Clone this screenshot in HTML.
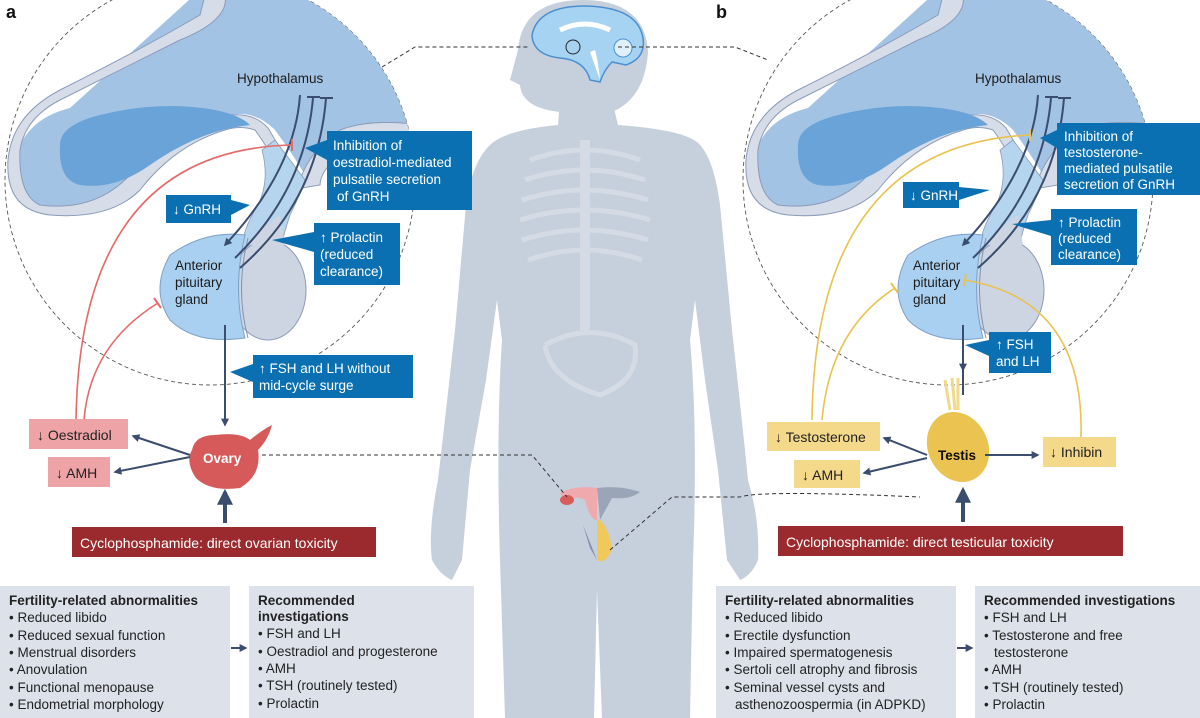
<!DOCTYPE html>
<html><head><meta charset="utf-8"><style>
html,body{margin:0;padding:0;background:#fff}
svg{display:block}
text{font-family:"Liberation Sans",sans-serif}
</style></head><body>
<svg width="1200" height="718" viewBox="0 0 1200 718" xmlns="http://www.w3.org/2000/svg">
<defs>
<clipPath id="cl"><circle cx="210" cy="180" r="205"/></clipPath>
<marker id="ah" viewBox="0 0 10 10" refX="8" refY="5" markerWidth="4" markerHeight="4" orient="auto"><path d="M0,0 L10,5 L0,10 z" fill="#3b4d6e"/></marker>
<g id="brain">
 <g clip-path="url(#cl)">
  <path d="M200,-10 L430,-10 L430,140 L370,125 Q320,125 305,175 Q290,150 275,130 Q255,110 230,115 Q170,125 130,175 Q95,215 40,205 Q5,198 18,150 Q30,118 70,108 Z" fill="#a3c3e5"/>
  <path d="M205,-5 L225,-5 Q230,20 180,40 Q110,75 60,100 Q25,118 20,150 Q18,195 40,205 Q95,212 130,175 Q170,125 230,115 Q255,113 268,128 L290,165 L300,180 Q310,150 340,130 Q370,118 420,125 L420,135 Q370,130 345,150 Q320,170 320,185 L290,190 Q270,150 255,130 Q240,125 225,130 Q175,145 140,190 Q110,220 50,215 Q5,210 8,160 Q12,115 60,90 Q140,50 200,15 Z" fill="#d6dde8" stroke="#8a9bb8" stroke-width="1"/>
  <path d="M60,145 Q60,125 100,115 Q160,100 215,110 Q240,115 250,125 Q200,130 150,165 Q115,190 80,185 Q58,180 60,145 Z" fill="#6aa3d8"/>
 </g>
 <path d="M262,150 Q270,180 258,205 Q245,225 240,250 L280,250 Q285,230 290,215 Q300,195 305,180 Q290,160 275,140 Z" fill="#b5d5ef" stroke="#8a9bb8" stroke-width="0.8"/>
 <ellipse cx="268" cy="290" rx="38" ry="50" fill="#cdd5e2" stroke="#8a9bb8"/>
 <path d="M250,245 Q258,230 280,215 L285,245 Z" fill="#cdd5e2"/>
 <path d="M245,235 Q205,230 170,255 Q150,290 170,320 Q195,345 245,338 Q232,290 245,235 Z" fill="#a9d0f0" stroke="#7fa0c8"/>
 <path d="M248,238 Q235,290 248,338" fill="none" stroke="#7f93b2" stroke-width="1"/>
 <path d="M300,95 Q295,170 225,245" fill="none" stroke="#3b4d6e" stroke-width="2" marker-end="url(#ah)"/>
 <path d="M313,98 Q305,190 235,258" fill="none" stroke="#3b4d6e" stroke-width="2"/>
 <path d="M326,98 Q318,200 240,268" fill="none" stroke="#3b4d6e" stroke-width="2"/>
 <path d="M307,97 L320,97 M320,98 L333,98" stroke="#3b4d6e" stroke-width="2"/>
 <text x="237" y="83" font-size="13.5" fill="#1c1c1c">Hypothalamus</text>
 <text x="175" y="270" font-size="13.5" fill="#1c1c1c">Anterior</text>
 <text x="175" y="287" font-size="13.5" fill="#1c1c1c">pituitary</text>
 <text x="175" y="304" font-size="13.5" fill="#1c1c1c">gland</text>
 <line x1="225" y1="325" x2="225" y2="395" stroke="#3b4d6e" stroke-width="2"/>
</g>
</defs>

<circle cx="210" cy="180" r="205" fill="none" stroke="#555" stroke-dasharray="4,3" stroke-width="0.9"/>
<circle cx="948" cy="180" r="205" fill="none" stroke="#555" stroke-dasharray="4,3" stroke-width="0.9"/>

<!-- body -->
<path d="M560,100 L558,125 Q505,130 490,145 Q472,162 466,205 L455,330 Q445,420 438,480 Q428,530 432,560 Q440,575 452,580 L462,560 L470,470 L486,380 L497,300 L502,340 Q496,430 500,560 L505,718 L594,718 L597,590 L602,718 L690,718 L693,560 Q698,430 690,340 L695,300 L705,380 L718,470 L727,560 L740,580 Q752,575 758,560 Q760,520 748,480 Q742,420 732,330 L720,205 Q714,160 700,145 Q688,130 618,125 L612,100 Z" fill="#c6cfdc"/>
<path d="M583,0 Q522,0 518,50 L510,80 L520,85 Q522,108 560,112 L612,112 Q645,98 648,52 Q645,0 583,0 Z" fill="#c6cfdc"/>
<g fill="none" stroke="#d6dde7" stroke-width="5" opacity="0.9">
 <path d="M530,160 Q585,140 640,160"/><path d="M525,180 Q585,160 645,180"/><path d="M522,200 Q585,180 648,200"/><path d="M520,220 Q585,200 650,220"/><path d="M522,240 Q585,220 648,240"/><path d="M528,260 Q585,240 642,260"/>
 <path d="M585,140 L585,330" stroke-width="10"/>
 <path d="M545,345 Q590,320 635,345 Q640,380 600,395 Q550,380 545,345"/>
</g>
<!-- brain -->
<path d="M532,35 Q538,6 585,6 Q638,7 643,38 Q646,58 626,65 L612,62 Q604,70 600,82 L590,80 Q585,60 560,58 Q533,55 532,35 Z" fill="#a7d3f2" stroke="#4a90d0" stroke-width="1.5"/>
<path d="M590,52 L600,80 Q598,60 595,50 Z" fill="#fff"/>
<path d="M560,30 Q585,18 610,30" stroke="#fff" stroke-width="5" fill="none"/>
<circle cx="623" cy="48" r="9" fill="#dff0fb" stroke="#4a90d0" stroke-width="1"/>
<circle cx="573" cy="47" r="7" fill="none" stroke="#222" stroke-width="1"/>
<!-- reproductive -->
<path d="M560,493 Q575,485 597,488 L597,520 Q590,520 585,500 Q575,495 565,500 Z" fill="#f0a9ad"/>
<ellipse cx="567" cy="500" rx="7" ry="5" fill="#d85c5c"/>
<path d="M597,488 Q620,485 640,492 Q630,500 612,498 L600,520 Z" fill="#9aa5b8"/>
<path d="M597,520 L597,560 Q605,565 612,550 Q610,530 600,520 Z" fill="#f0c95a"/>
<path d="M583,525 L597,560 L590,548 Z" fill="#8090a8"/>

<path d="M382,67 L415,47 L528,47" fill="none" stroke="#333" stroke-dasharray="4,3"/>
<path d="M618,47 L735,47 L768,60" fill="none" stroke="#333" stroke-dasharray="4,3"/>
<path d="M262,455 L532,455 L567,497" fill="none" stroke="#333" stroke-dasharray="4,3"/>
<path d="M610,550 L672,497 L740,497 Q760,490 920,497" fill="none" stroke="#333" stroke-dasharray="4,3"/>

<use href="#brain"/>
<use href="#brain" transform="translate(738,0)"/>

<path d="M76,420 Q80,150 292,145" fill="none" stroke="#e36b69" stroke-width="1.6"/>
<line x1="292" y1="139" x2="292" y2="151" stroke="#e36b69" stroke-width="2"/>
<path d="M84,420 Q90,345 158,303" fill="none" stroke="#e36b69" stroke-width="1.6"/>
<line x1="154" y1="298" x2="161" y2="308" stroke="#e36b69" stroke-width="2"/>

<path d="M812,420 Q815,145 1030,135" fill="none" stroke="#e8c350" stroke-width="1.6"/>
<line x1="1030" y1="129" x2="1030" y2="141" stroke="#e8c350" stroke-width="2"/>
<path d="M822,420 Q830,330 895,288" fill="none" stroke="#e8c350" stroke-width="1.6"/>
<line x1="891" y1="283" x2="898" y2="293" stroke="#e8c350" stroke-width="2"/>
<path d="M1081,437 Q1085,300 965,280" fill="none" stroke="#e8c350" stroke-width="1.6"/>
<line x1="966" y1="274" x2="964" y2="286" stroke="#e8c350" stroke-width="2"/>

<g fill="#0a70b2">
 <rect x="327" y="131" width="145" height="79"/><path d="M327,140 L305,148 L327,160 Z"/>
 <rect x="166" y="195" width="65" height="28"/><path d="M231,200 L250,205 L231,215 Z"/>
 <rect x="314" y="223" width="86" height="62"/><path d="M314,232 L272,240 L314,252 Z"/>
 <rect x="253" y="355" width="160" height="43"/><path d="M253,364 L230,372 L253,382 Z"/>
 <rect x="1057" y="123" width="143" height="72"/><path d="M1057,130 L1040,138 L1057,148 Z"/>
 <rect x="903" y="182" width="56" height="26"/><path d="M959,187 L990,190 L959,200 Z"/>
 <rect x="1051" y="209" width="86" height="56"/><path d="M1051,220 L1012,224 L1051,236 Z"/>
 <rect x="989" y="332" width="62" height="41"/><path d="M989,340 L965,345 L989,356 Z"/>
</g>
<g fill="#fff" font-size="13.5">
 <text x="333" y="150">Inhibition of</text><text x="333" y="167">oestradiol-mediated</text><text x="333" y="184">pulsatile secretion</text><text x="337" y="201">of GnRH</text>
 <text x="173" y="214">↓ GnRH</text>
 <text x="320" y="242">↑ Prolactin</text><text x="320" y="259">(reduced</text><text x="320" y="276">clearance)</text>
 <text x="259" y="373">↑ FSH and LH without</text><text x="259" y="390">mid-cycle surge</text>
 <text x="1064" y="141">Inhibition of</text><text x="1064" y="157">testosterone-</text><text x="1064" y="173">mediated pulsatile</text><text x="1064" y="189">secretion of GnRH</text>
 <text x="910" y="200">↓ GnRH</text>
 <text x="1058" y="227">↑ Prolactin</text><text x="1058" y="243">(reduced</text><text x="1058" y="259">clearance)</text>
 <text x="996" y="349">↑ FSH</text><text x="996" y="366">and LH</text>
</g>

<line x1="225" y1="395" x2="225" y2="425" stroke="#3b4d6e" stroke-width="2" marker-end="url(#ah)"/>
<path d="M192,450 Q195,435 215,435 Q240,432 250,440 Q262,430 272,425 Q268,440 258,450 Q262,475 240,488 Q210,492 196,478 Q185,462 192,450 Z" fill="#d75a5a"/>
<text x="203" y="463" font-size="13.5" font-weight="bold" fill="#fff">Ovary</text>
<rect x="29" y="419" width="99" height="30" fill="#eea3a6"/>
<text x="37" y="440" font-size="14" fill="#222">↓ Oestradiol</text>
<rect x="48" y="457" width="62" height="30" fill="#eea3a6"/>
<text x="56" y="478" font-size="14" fill="#222">↓ AMH</text>
<line x1="190" y1="455" x2="133" y2="436" stroke="#3b4d6e" stroke-width="2" marker-end="url(#ah)"/>
<line x1="190" y1="457" x2="115" y2="472" stroke="#3b4d6e" stroke-width="2" marker-end="url(#ah)"/>
<line x1="225" y1="523" x2="225" y2="492" stroke="#3b4d6e" stroke-width="4" marker-end="url(#ah)"/>
<rect x="72" y="527" width="304" height="30" fill="#9a2a2d"/>
<text x="80" y="548" font-size="14" fill="#fff">Cyclophosphamide: direct ovarian toxicity</text>

<line x1="963" y1="325" x2="963" y2="370" stroke="#3b4d6e" stroke-width="2" marker-end="url(#ah)"/>
<path d="M945,380 L950,410 M952,378 L955,410 M958,378 L958,410" stroke="#f2d98a" stroke-width="3"/>
<ellipse cx="958" cy="447" rx="30" ry="36" transform="rotate(-25 958 447)" fill="#ebc350"/>
<text x="938" y="460" font-size="13.5" font-weight="bold" fill="#111">Testis</text>
<rect x="767" y="422" width="113" height="29" fill="#f5d98a"/>
<text x="775" y="442" font-size="14" fill="#222">↓ Testosterone</text>
<rect x="794" y="460" width="66" height="28" fill="#f5d98a"/>
<text x="802" y="480" font-size="14" fill="#222">↓ AMH</text>
<rect x="1043" y="437" width="73" height="30" fill="#f5d98a"/>
<text x="1050" y="457" font-size="14" fill="#222">↓ Inhibin</text>
<line x1="927" y1="455" x2="884" y2="438" stroke="#3b4d6e" stroke-width="2" marker-end="url(#ah)"/>
<line x1="927" y1="458" x2="864" y2="473" stroke="#3b4d6e" stroke-width="2" marker-end="url(#ah)"/>
<line x1="985" y1="455" x2="1038" y2="455" stroke="#3b4d6e" stroke-width="2" marker-end="url(#ah)"/>
<line x1="963" y1="522" x2="963" y2="490" stroke="#3b4d6e" stroke-width="4" marker-end="url(#ah)"/>
<rect x="778" y="526" width="345" height="30" fill="#9a2a2d"/>
<text x="786" y="547" font-size="14" fill="#fff">Cyclophosphamide: direct testicular toxicity</text>

<rect x="0" y="586" width="230" height="132" fill="#dde2ea"/>
<rect x="249" y="586" width="225" height="132" fill="#dde2ea"/>
<rect x="716" y="586" width="240" height="132" fill="#dde2ea"/>
<rect x="975" y="586" width="225" height="132" fill="#dde2ea"/>
<line x1="231" y1="648" x2="246" y2="648" stroke="#3b4d6e" stroke-width="2" marker-end="url(#ah)"/>
<line x1="957" y1="648" x2="972" y2="648" stroke="#3b4d6e" stroke-width="2" marker-end="url(#ah)"/>
<g font-size="13.5" fill="#222">
 <text x="9" y="605" font-weight="bold">Fertility-related abnormalities</text>
 <text x="9" y="622">• Reduced libido</text><text x="9" y="640">• Reduced sexual function</text><text x="9" y="657">• Menstrual disorders</text><text x="9" y="674">• Anovulation</text><text x="9" y="692">• Functional menopause</text><text x="9" y="709">• Endometrial morphology</text>
 <text x="258" y="605" font-weight="bold">Recommended</text><text x="258" y="621" font-weight="bold">investigations</text>
 <text x="258" y="638">• FSH and LH</text><text x="258" y="656">• Oestradiol and progesterone</text><text x="258" y="673">• AMH</text><text x="258" y="690">• TSH (routinely tested)</text><text x="258" y="708">• Prolactin</text>
 <text x="725" y="605" font-weight="bold">Fertility-related abnormalities</text>
 <text x="725" y="622">• Reduced libido</text><text x="725" y="640">• Erectile dysfunction</text><text x="725" y="657">• Impaired spermatogenesis</text><text x="725" y="674">• Sertoli cell atrophy and fibrosis</text><text x="725" y="692">• Seminal vessel cysts and</text><text x="735" y="709">asthenozoospermia (in ADPKD)</text>
 <text x="984" y="605" font-weight="bold">Recommended investigations</text>
 <text x="984" y="622">• FSH and LH</text><text x="984" y="640">• Testosterone and free</text><text x="994" y="657">testosterone</text><text x="984" y="674">• AMH</text><text x="984" y="692">• TSH (routinely tested)</text><text x="984" y="709">• Prolactin</text>
</g>
<text x="6" y="18" font-size="18" font-weight="bold" fill="#111">a</text>
<text x="716" y="18" font-size="18" font-weight="bold" fill="#111">b</text>
</svg>
</body></html>
